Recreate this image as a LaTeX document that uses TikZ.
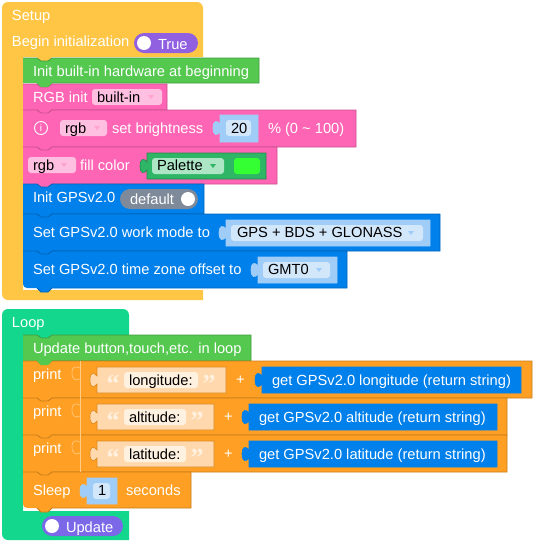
\documentclass[tikz,border=0pt]{standalone}
\usepackage{fontspec}
\setmainfont{Liberation Sans}
\newfontfamily\quotefont{Liberation Serif}
\definecolor{setupfill}{HTML}{FFC646}
\definecolor{loopfill}{HTML}{12D78C}
\definecolor{hatfill}{HTML}{54C84F}
\definecolor{rgbfill}{HTML}{FF65B5}
\definecolor{rgbfield}{HTML}{FFBFE0}
\definecolor{gpsfill}{HTML}{0080EB}
\definecolor{gpsslot}{HTML}{9FCDF7}
\definecolor{gpsfield}{HTML}{D3E7FB}
\definecolor{printfill}{HTML}{FFA024}
\definecolor{printline}{HTML}{FFCB85}
\definecolor{textslot}{HTML}{FFD9AD}
\definecolor{textfield}{HTML}{FFF1E0}
\definecolor{palettefill}{HTML}{2FB566}
\definecolor{palettefield}{HTML}{ACE6C5}
\definecolor{swatch}{HTML}{33FF33}
\definecolor{truepill}{HTML}{9060E0}
\definecolor{updatepill}{HTML}{7B68E8}
\definecolor{defaultpill}{HTML}{7E8A99}
\newcommand{\stmt}[6][0.01]{
  \fill[#6] (#2,#3) -- (#2+14,#3) -- (#2+18,#3+3) -- (#2+25,#3+3) -- (#2+29,#3)
    -- (#4,#3) -- (#4,#5) -- (#2+29,#5) -- (#2+25,#5+4) -- (#2+18,#5+4)
    -- (#2+14,#5) [rounded corners=#1] -- (#2,#5) -- (#2,#3+8);
  \draw[#6!78!black, line width=0.8] (#2,#3) -- (#2+14,#3) -- (#2+18,#3+3)
    -- (#2+25,#3+3) -- (#2+29,#3) -- (#4,#3) -- (#4,#5) -- (#2+29,#5)
    -- (#2+25,#5+4) -- (#2+18,#5+4) -- (#2+14,#5);
}
\newcommand{\slotblock}[6]{
  \draw[#5, fill=#6, line width=0.6] (#1,#2) -- (#1,#2+9)
    .. controls (#1-3,#2+5) and (#1-7,#2+5) .. (#1-7,#2+13)
    .. controls (#1-7,#2+21) and (#1-3,#2+21) .. (#1,#2+17)
    -- (#1,#4) -- (#3,#4) -- (#3,#2) -- cycle;
}
\newcommand{\droparrow}[3]{
  \fill[#3] (#1-3,#2-2) -- (#1+3,#2-2) -- (#1,#2+2) -- cycle;
}
\begin{document}
\begin{tikzpicture}[x=1pt, y=-1pt,
    every node/.style={inner sep=0pt, outer sep=0pt, font=\fontsize{14.67}{16}\selectfont},
    lbl/.style={anchor=base west, text=white},
    val/.style={anchor=base west, text=black},
    field/.style={rectangle, rounded corners=3pt, minimum height=16pt},
    pill/.style={rectangle, rounded corners=10pt, minimum height=20pt},
    knob/.style={circle, fill=white, minimum size=14pt},
    quotemark/.style={text=textfield, font=\quotefont\bfseries\fontsize{26}{26}\selectfont}]
  \useasboundingbox (0,0) rectangle (538,547);

  \fill[setupfill] (203,57) -- (52,57) -- (48,62) -- (41,62) -- (37,57) -- (23,57) -- (23,290)
    -- (203,290) -- (203,300) [rounded corners=6pt] -- (2,300) -- (2,2) -- (203,2)
    [sharp corners] -- (203,30);
  \node[lbl] (setup) at (12,20) {Setup};
  \node[lbl] (begin) at (12,46) {Begin initialization};
  \node[pill, fill=truepill, minimum width=64pt] (truebox) at (166,43) {};
  \node[knob] (trueknob) at (144,43) {};
  \node[lbl] (truetext) at (158,49) {True};

  \stmt{23}{58}{259}{83}{hatfill}
  \node[lbl] (hwinit) at (33,76) {Init built-in hardware at beginning};

  \stmt{23}{84}{167}{110}{rgbfill}
  \fill[hatfill] (37,83) -- (41,87) -- (48,87) -- (52,83) -- cycle;
  \node[lbl] (rgbinit) at (33,102) {RGB init};
  \node[field, fill=rgbfield, minimum width=70pt] (builtinbox) at (127,97) {};
  \node[val] (builtin) at (97,102) {built-in};
  \droparrow{151}{97}{rgbfill!60!white}

  \stmt{23}{110}{356}{147}{rgbfill}
  \node[circle, draw=white, line width=0.9pt, minimum size=13pt, text=white,
    font=\fontsize{10}{10}\selectfont] (info) at (41,128) {i};
  \node[field, fill=rgbfield, minimum width=47pt] (rgbbox) at (83.5,128) {};
  \node[val] (rgbone) at (65,133) {rgb};
  \droparrow{97}{128}{rgbfill!60!white}
  \node[lbl] (brightness) at (112,133) {set brightness};
  \slotblock{220}{115}{258}{142}{gpsslot}{gpsslot}
  \node[field, fill=gpsfield, minimum width=25pt] (brightbox) at (238.5,128) {};
  \node[val] (brightval) at (231,133) {20};
  \node[lbl] (percent) at (268,133) {\% (0 \textasciitilde{} 100)};

  \stmt{23}{147}{277}{184}{rgbfill}
  \node[field, fill=rgbfield, minimum width=48pt] (rgbboxb) at (52,165) {};
  \node[val] (rgbtwo) at (33,170) {rgb};
  \droparrow{64}{165}{rgbfill!60!white}
  \node[lbl] (fillcolor) at (80,170) {fill color};
  \slotblock{147}{153}{266}{179}{palettefill!75!black}{palettefill}
  \node[field, fill=palettefield, minimum width=72pt] (palettebox) at (188,166) {};
  \node[val] (palette) at (157,170) {Palette};
  \droparrow{213}{166}{palettefill}
  \node[field, fill=swatch, minimum width=26pt] (swatchbox) at (247,166) {};

  \stmt{23}{184}{204}{214}{gpsfill}
  \node[lbl] (gpsinit) at (33,202) {Init GPSv2.0};
  \node[pill, fill=defaultpill, minimum width=78pt] (defaultbox) at (159,199) {};
  \node[lbl] (defaulttext) at (130,204) {default};
  \node[knob] (defaultknob) at (188,199) {};

  \stmt{23}{214}{440}{251}{gpsfill}
  \node[lbl] (workmode) at (33,237) {Set GPSv2.0 work mode to};
  \slotblock{226}{220}{430}{246}{gpsslot}{gpsslot}
  \node[field, fill=gpsfield, minimum width=192pt] (modebox) at (327,233) {};
  \node[val] (modeval) at (237,237) {GPS + BDS + GLONASS};
  \droparrow{411}{233}{gpsslot}

  \stmt[4pt]{23}{251}{347}{288}{gpsfill}
  \node[lbl] (timezone) at (33,274) {Set GPSv2.0 time zone offset to};
  \slotblock{258}{257}{337}{283}{gpsslot}{gpsslot}
  \node[field, fill=gpsfield, minimum width=67pt] (zonebox) at (296.5,270) {};
  \node[val] (zoneval) at (268,274) {GMT0};
  \droparrow{319}{270}{gpsslot}

  \fill[loopfill] (129,335) -- (52,335) -- (48,340) -- (41,340) -- (37,335) -- (23,335)
    -- (23,511) -- (129,511) -- (129,540) [rounded corners=6pt] -- (2,540) -- (2,309)
    -- (129,309) [sharp corners] -- (129,320);
  \node[lbl] (loop) at (12,327) {Loop};

  \stmt{23}{335}{251}{361}{hatfill}
  \node[lbl] (update) at (33,353) {Update button,touch,etc. in loop};

  \stmt{23}{361}{532}{398}{printfill}
  \fill[hatfill] (37,361) -- (41,365) -- (48,365) -- (52,361) -- cycle;
  \stmt{23}{398}{507}{435}{printfill}
  \stmt{23}{435}{507}{472}{printfill}
  \stmt[4pt]{23}{472}{191}{508}{printfill}
  \draw[printline, line width=0.6] (80,361) -- (80,472);
  \draw[printline, line width=0.6] (80,368) .. controls (76,366) and (72,366) .. (72,373)
    .. controls (72,380) and (76,381) .. (80,379);
  \draw[printline, line width=0.6] (80,405) .. controls (76,403) and (72,403) .. (72,410)
    .. controls (72,417) and (76,418) .. (80,416);
  \draw[printline, line width=0.6] (80,442) .. controls (76,440) and (72,440) .. (72,447)
    .. controls (72,454) and (76,455) .. (80,453);

  \node[lbl] (printone) at (33,379) {print};
  \slotblock{97}{367}{226}{393}{printfill!85!black}{textslot}
  \node[field, fill=textfield, minimum width=74pt] (lonbox) at (161,380) {};
  \node[val] (lon) at (129,385) {longitude:};
  \node[quotemark] (lonl) at (113,384) {“};
  \node[quotemark] (lonr) at (209,384) {”};
  \node[lbl] (plusone) at (236,384) {+};
  \slotblock{262}{367}{521}{393}{gpsfill}{gpsfill}
  \node[lbl] (getlon) at (272,385) {get GPSv2.0 longitude (return string)};

  \node[lbl] (printtwo) at (33,416) {print};
  \slotblock{97}{404}{214}{430}{printfill!85!black}{textslot}
  \node[field, fill=textfield, minimum width=62pt] (altbox) at (155,417) {};
  \node[val] (alt) at (129,422) {altitude:};
  \node[quotemark] (altl) at (113,421) {“};
  \node[quotemark] (altr) at (197,421) {”};
  \node[lbl] (plustwo) at (224,421) {+};
  \slotblock{249}{404}{497}{430}{gpsfill}{gpsfill}
  \node[lbl] (getalt) at (259,422) {get GPSv2.0 altitude (return string)};

  \node[lbl] (printthree) at (33,453) {print};
  \slotblock{97}{441}{214}{467}{printfill!85!black}{textslot}
  \node[field, fill=textfield, minimum width=62pt] (latbox) at (155,454) {};
  \node[val] (lat) at (129,459) {latitude:};
  \node[quotemark] (latl) at (113,458) {“};
  \node[quotemark] (latr) at (197,458) {”};
  \node[lbl] (plusthree) at (224,458) {+};
  \slotblock{249}{441}{497}{467}{gpsfill}{gpsfill}
  \node[lbl] (getlat) at (259,459) {get GPSv2.0 latitude (return string)};

  \node[lbl] (sleep) at (33,495) {Sleep};
  \slotblock{87}{478}{117}{504}{gpsslot}{gpsslot}
  \node[field, fill=gpsfield, minimum width=17pt] (sleepbox) at (101.5,491) {};
  \node[val] (sleepval) at (98,495) {1};
  \node[lbl] (seconds) at (126,495) {seconds};

  \node[pill, fill=updatepill, minimum width=81pt] (updatebox) at (82.5,526) {};
  \node[knob] (updateknob) at (52,526) {};
  \node[lbl] (updatetext) at (66,532) {Update};
\end{tikzpicture}
\end{document}
